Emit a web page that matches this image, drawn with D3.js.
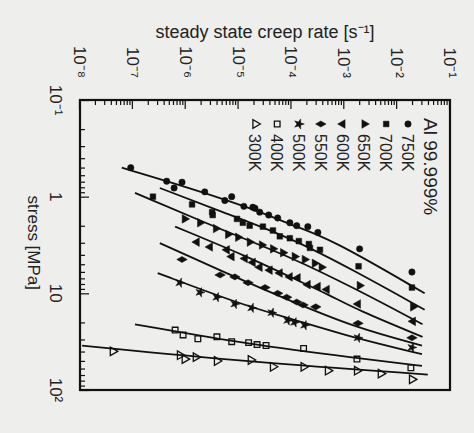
<!DOCTYPE html>
<html>
  <head>
    <meta charset="utf-8" />
    <title>Al 99.999% creep</title>
    <script src="https://d3js.org/d3.v7.min.js"></script>
    <style>
      body { margin: 0; background-color: #eeeeec; }
      svg { font-family: "Liberation Sans", Arial, sans-serif; }
    </style>
  </head>
  <body>
    <svg width="474" height="433" id="chart"></svg>
    <script>
      // values are read as log10: [log10 stress (MPa), log10 creep rate (1/s)]
      const temps = ["750K", "700K", "650K", "600K", "550K", "500K", "400K", "300K"];
      const stressTicks = [-1, 0, 1, 2];
      const rateTicks = [-8, -7, -6, -5, -4, -3, -2, -1];

      const pts750 = [[-0.30,-7.04],[-0.16,-6.36],[-0.09,-6.22],[-0.15,-6.07],[-0.05,-5.64],[0.04,-5.26],[0.00,-5.13],[0.10,-4.90],[0.11,-4.73],[0.12,-4.69],[0.16,-4.60],[0.19,-4.43],[0.22,-4.26],[0.27,-4.03],[0.30,-3.90],[0.31,-3.69],[0.37,-3.50],[0.54,-2.71],[0.78,-1.72]];
      const pts700 = [[0.00,-6.62],[0.08,-5.88],[0.16,-5.50],[0.19,-5.49],[0.23,-5.03],[0.27,-4.92],[0.30,-4.79],[0.31,-4.54],[0.35,-4.35],[0.41,-4.22],[0.43,-4.03],[0.46,-3.86],[0.49,-3.67],[0.53,-3.65],[0.55,-3.46],[0.72,-2.73],[0.94,-1.72]];
      const pts650 = [[0.23,-6.02],[0.27,-5.73],[0.33,-5.43],[0.39,-5.20],[0.42,-5.01],[0.47,-4.79],[0.50,-4.56],[0.54,-4.35],[0.58,-4.16],[0.62,-3.94],[0.65,-3.75],[0.69,-3.56],[0.73,-3.43],[0.92,-2.71],[1.14,-1.70]];
      const pts600 = [[0.47,-5.79],[0.52,-5.54],[0.55,-5.22],[0.62,-5.13],[0.64,-4.88],[0.68,-4.73],[0.73,-4.60],[0.76,-4.41],[0.79,-4.22],[0.83,-4.03],[0.84,-3.88],[0.91,-3.69],[0.93,-3.50],[0.96,-3.33],[1.11,-2.74],[1.29,-1.70]];
      const pts550 = [[0.65,-6.07],[0.81,-5.35],[0.83,-5.07],[0.89,-4.82],[0.94,-4.50],[1.00,-4.26],[1.04,-4.09],[1.09,-3.90],[1.12,-3.78],[1.14,-3.54],[1.31,-2.74],[1.46,-1.72]];
      const pts500 = [[0.89,-6.11],[0.99,-5.73],[1.04,-5.41],[1.11,-5.07],[1.15,-4.75],[1.20,-4.37],[1.28,-4.07],[1.30,-3.94],[1.33,-3.75],[1.46,-2.74],[1.56,-1.72]];
      const pts400 = [[1.38,-6.20],[1.43,-6.05],[1.47,-5.77],[1.45,-5.41],[1.50,-5.13],[1.51,-4.81],[1.53,-4.65],[1.54,-4.48],[1.57,-3.77],[1.68,-2.76],[1.77,-1.74]];
      const pts300 = [[1.60,-7.38],[1.64,-6.11],[1.68,-6.02],[1.66,-5.81],[1.70,-5.41],[1.69,-4.77],[1.76,-4.35],[1.76,-3.77],[1.80,-3.31],[1.80,-2.76],[1.83,-2.31],[1.89,-1.72]];

      // fitted curves
      const fit750 = [[-0.30,-7.21],[-0.09,-5.92],[0.14,-4.65],[0.29,-4.03],[0.43,-3.27],[1.00,-1.48]];
      const fit700 = [[-0.09,-6.49],[0.16,-5.30],[0.42,-4.03],[0.78,-2.76],[1.17,-1.48]];
      const fit650 = [[-0.04,-6.96],[0.38,-5.16],[0.62,-4.03],[0.96,-2.76],[1.32,-1.52]];
      const fit600 = [[0.31,-6.20],[0.63,-4.79],[0.83,-4.03],[1.02,-3.27],[1.17,-2.76],[1.45,-1.52]];
      const fit550 = [[0.48,-6.49],[0.81,-5.16],[1.09,-3.97],[1.36,-2.76],[1.54,-1.53]];
      const fit500 = [[0.79,-6.53],[1.11,-4.98],[1.26,-4.03],[1.47,-2.76],[1.63,-1.53]];
      const fit400 = [[1.32,-6.96],[1.53,-4.79],[1.67,-2.76],[1.75,-1.53]];
      const fit300 = [[1.54,-7.96],[1.71,-4.79],[1.84,-1.42]];

      const points = [pts750, pts700, pts650, pts600, pts550, pts500, pts400, pts300];
      const fits = [fit750, fit700, fit650, fit600, fit550, fit500, fit400, fit300];
      const shapes = [d3.symbolCircle, d3.symbolSquare, d3.symbolTriangle, d3.symbolTriangle,
                      d3.symbolDiamond, d3.symbolStar, d3.symbolSquare, d3.symbolTriangle];
      const filled = [true, true, true, true, true, true, false, false];
      const flip = [false, false, false, true, false, false, false, false];

      const svg = d3.select("#chart");
      const W = 290, H = 370;

      // the figure is photographed turned a quarter turn clockwise
      const g = svg.append("g").attr("transform", "translate(450,100) rotate(90)");

      const x = d3.scaleLog().domain([0.1, 100]).range([0, W]);
      const y = d3.scaleLog().domain([1e-8, 1e-1]).range([H, 0]);
      const p = v => Math.pow(10, v);

      const xAxis = d3.axisBottom(x).tickValues(x.ticks()).tickSizeInner(-5).tickSizeOuter(0).tickFormat("");
      const yAxis = d3.axisLeft(y).tickValues(y.ticks()).tickSizeInner(-5).tickSizeOuter(0).tickFormat("");
      const gx = g.append("g").attr("transform", `translate(0,${H})`).call(xAxis);
      const gy = g.append("g").call(yAxis);
      gx.selectAll(".tick line").attr("y2", d => Math.abs(Math.log10(d) % 1) < 1e-6 ? -9 : -5);
      gy.selectAll(".tick line").attr("x2", d => Math.abs(Math.log10(d) % 1) < 1e-6 ? 9 : 5);
      g.selectAll(".domain").remove();
      g.selectAll(".tick line").attr("stroke", "#111").attr("stroke-width", 1.2);

      g.append("rect").attr("width", W).attr("height", H)
        .attr("fill", "none").attr("stroke", "#111").attr("stroke-width", 2.2);

      const sup = { "-": "\u207B", "1": "\u00B9", "2": "\u00B2", "3": "\u00B3", "4": "\u2074",
                    "5": "\u2075", "6": "\u2076", "7": "\u2077", "8": "\u2078" };
      const lab = e => e === 0 ? "1" : e === 1 ? "10" : "10" + String(e).split("").map(c => sup[c]).join("");

      g.selectAll(".sx").data(stressTicks).enter().append("text")
        .attr("x", d => x(p(d))).attr("y", H + 30)
        .attr("text-anchor", "middle").attr("font-size", 17).attr("fill", "#222")
        .text(lab);
      g.append("text").attr("x", x(3)).attr("y", H + 52)
        .attr("text-anchor", "middle").attr("font-size", 17).attr("fill", "#222")
        .text("stress  [MPa]");

      g.selectAll(".sy").data(rateTicks).enter().append("text")
        .attr("x", -22).attr("y", d => y(p(d)) + 6)
        .attr("text-anchor", "end").attr("font-size", 17).attr("fill", "#222")
        .text(lab);

      svg.append("text").attr("x", 265).attr("y", 38)
        .attr("text-anchor", "middle").attr("font-size", 18).attr("fill", "#222")
        .text("steady state creep rate [s\u207B\u00B9]");

      const line = d3.line().x(d => x(p(d[0]))).y(d => y(p(d[1]))).curve(d3.curveBasis);

      fits.forEach(f => {
        g.append("path").attr("d", line(f)).attr("fill", "none")
          .attr("stroke", "#111").attr("stroke-width", 1.8);
      });

      points.forEach((ser, i) => {
        const sym = d3.symbol().type(shapes[i]).size(i === 5 ? 28 : 32);
        g.selectAll(null).data(ser).enter().append("path")
          .attr("d", sym)
          .attr("transform", d => `translate(${x(p(d[0]))},${y(p(d[1]))})${flip[i] ? " rotate(180)" : ""}`)
          .attr("fill", filled[i] ? "#111" : "none")
          .attr("stroke", "#111").attr("stroke-width", filled[i] ? 0.5 : 1.3);
      });

      // legend
      const lg = g.append("g").attr("transform", "translate(18,20)");
      lg.append("text").attr("x", 0).attr("y", 6).attr("font-size", 19).attr("fill", "#222").text("Al 99.999%");
      temps.forEach((t, i) => {
        const yy = 22 + i * 21.8;
        lg.append("path")
          .attr("d", d3.symbol().type(shapes[i]).size(32))
          .attr("transform", `translate(6,${yy})${flip[i] ? " rotate(180)" : ""}`)
          .attr("fill", filled[i] ? "#111" : "none")
          .attr("stroke", "#111").attr("stroke-width", filled[i] ? 0.5 : 1.3);
        lg.append("text").attr("x", 16).attr("y", yy + 6)
          .attr("font-size", 16).attr("fill", "#222").text(t);
      });
    </script>
  </body>
</html>
